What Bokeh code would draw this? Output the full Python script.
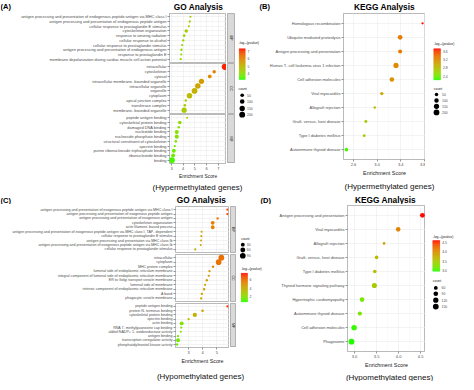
import numpy as np
from bokeh.plotting import figure
from bokeh.layouts import row, column
from bokeh.models import (FactorRange, Range1d, FixedTicker, ColumnDataSource,
                          LinearColorMapper, PrintfTickFormatter)
from bokeh.core.properties import value
from bokeh.embed import file_html
from bokeh.resources import INLINE

# ---------------- data ----------------
# Panel A : GO (hypermethylated)
a_bp_terms = ["antigen processing and presentation of endogenous peptide antigen via MHC class I",
              "antigen processing and presentation of endogenous peptide antigen",
              "cellular response to prostaglandin E stimulus",
              "cytoskeleton organization",
              "response to ionizing radiation",
              "cellular response to alcohol",
              "cellular response to prostaglandin stimulus",
              "antigen processing and presentation of endogenous antigen",
              "response to prostaglandin E",
              "membrane depolarization during cardiac muscle cell action potential"]
a_bp_score = [4.62, 4.56, 4.48, 4.26, 4.08, 4.00, 3.91, 3.85, 3.83, 3.79]
a_bp_logp = [4.7, 4.6, 4.6, 4.6, 4.4, 4.3, 4.3, 4.2, 4.2, 4.2]
a_bp_count = [8, 10, 8, 45, 18, 12, 10, 12, 9, 10]

a_cc_terms = ["intracellular", "cytoskeleton", "cytosol",
              "intracellular membrane- bounded organelle", "intracellular organelle",
              "organelle", "cytoplasm", "apical junction complex",
              "transferase complex", "membrane- bounded organelle"]
a_cc_score = [7.56, 6.65, 6.27, 5.56, 5.25, 4.97, 4.54, 4.22, 4.14, 4.08]
a_cc_logp = [7.3, 6.2, 6.0, 5.6, 5.4, 5.2, 4.9, 4.5, 4.5, 4.6]
a_cc_count = [230, 40, 55, 150, 170, 180, 165, 12, 20, 140]

a_mf_terms = ["peptide antigen binding", "cytoskeletal protein binding", "damaged DNA binding",
              "nucleotide binding", "nucleoside phosphate binding",
              "structural constituent of cytoskeleton", "spectrin binding",
              "purine ribonucleoside triphosphate binding", "ribonucleotide binding", "binding"]
a_mf_score = [4.34, 3.71, 3.62, 3.45, 3.45, 3.37, 3.28, 3.20, 3.14, 3.03]
a_mf_logp = [4.4, 4.2, 4.0, 4.0, 4.0, 3.9, 3.8, 3.7, 3.7, 3.4]
a_mf_count = [8, 45, 12, 70, 70, 15, 10, 60, 60, 215]

# Panel B : KEGG (hypermethylated)
b_terms = ["Homologous recombination", "Ubiquitin mediated proteolysis",
           "Antigen processing and presentation", "Human T- cell leukemia virus 1 infection",
           "Cell adhesion molecules", "Viral myocarditis", "Allograft rejection",
           "Graft- versus- host disease", "Type I diabetes mellitus", "Autoimmune thyroid disease"]
b_score = [3.77, 3.39, 3.39, 3.32, 3.25, 3.08, 2.96, 2.81, 2.78, 2.48]
b_logp = [3.7, 3.3, 3.3, 3.2, 3.15, 3.0, 2.85, 2.75, 2.7, 2.3]
b_count = [15, 110, 75, 150, 110, 40, 18, 30, 28, 55]

# Panel C : GO (hypomethylated)
c_bp_terms = ["antigen processing and presentation of exogenous peptide antigen via MHC class I",
              "antigen processing and presentation of exogenous peptide antigen",
              "antigen processing and presentation of exogenous antigen",
              "cytoskeleton organization",
              "actin filament- based process",
              "antigen processing and presentation of exogenous peptide antigen via MHC class I, TAP- dependent",
              "cellular response to prostaglandin E stimulus",
              "antigen processing and presentation via MHC class Ib",
              "antigen processing and presentation of exogenous peptide antigen via MHC class Ib",
              "cellular response to prostaglandin stimulus"]
c_bp_score = [5.75, 5.75, 5.06, 4.71, 4.71, 3.92, 3.90, 3.88, 3.86, 3.47]
c_bp_logp = [6.9, 6.8, 5.8, 5.5, 5.4, 4.3, 4.2, 4.2, 4.2, 3.8]
c_bp_count = [5, 5, 6, 28, 30, 4, 4, 4, 4, 5]

c_cc_terms = ["intracellular", "cytoplasm", "MHC protein complex",
              "lumenal side of endoplasmic reticulum membrane",
              "integral component of lumenal side of endoplasmic reticulum membrane",
              "ER to Golgi transport vesicle membrane", "lumenal side of membrane",
              "intrinsic component of endoplasmic reticulum membrane", "A band",
              "phagocytic vesicle membrane"]
c_cc_score = [5.32, 5.13, 4.73, 4.48, 4.43, 4.29, 4.17, 4.10, 3.94, 3.89]
c_cc_logp = [6.0, 5.8, 5.2, 4.8, 4.7, 4.6, 4.5, 4.4, 4.3, 4.2]
c_cc_count = [95, 88, 6, 5, 5, 6, 5, 8, 6, 6]

c_mf_terms = ["peptide antigen binding", "protein N- terminus binding", "cytoskeletal protein binding",
              "spectrin binding", "actin binding", "RNA 7- methylguanosine cap binding",
              "alditol:NADP+ 1- oxidoreductase activity", "antigen binding",
              "transcription coregulator activity", "phosphatidylinositol kinase activity"]
c_mf_score = [5.75, 3.99, 3.44, 3.00, 2.51, 2.48, 2.44, 2.25, 2.25, 2.18]
c_mf_logp = [7.0, 4.3, 3.8, 3.5, 2.0, 1.9, 1.9, 1.7, 1.7, 1.6]
c_mf_count = [5, 8, 40, 5, 30, 5, 4, 6, 30, 6]

# Panel D : KEGG (hypomethylated)
d_terms = ["Antigen processing and presentation", "Viral myocarditis", "Allograft rejection",
           "Graft- versus- host disease", "Type I diabetes mellitus",
           "Thyroid hormone signaling pathway", "Hypertrophic cardiomyopathy",
           "Autoimmune thyroid disease", "Cell adhesion molecules", "Phagosome"]
d_score = [4.54, 3.99, 3.67, 3.50, 3.46, 3.45, 3.17, 3.12, 2.99, 2.93]
d_logp = [4.6, 4.1, 3.85, 3.65, 3.6, 3.5, 3.2, 3.2, 3.0, 2.97]
d_count = [100, 85, 35, 55, 55, 110, 90, 70, 130, 150]

# axis ticks / legend values
a_ticks = [3, 4, 5, 6, 7]
b_ticks = [2.6, 3.0, 3.4, 3.8]
c_ticks = [3, 4, 5]
d_ticks = [3.0, 3.5, 4.0, 4.5]
a_col_labels = [7, 6, 5, 4]
b_col_labels = [3.6, 3.2, 2.8, 2.4]
c_col_labels = [6, 4, 2]
d_col_labels = [4.5, 4.0, 3.5, 3.0]
a_cnt_legend = [50, 100, 150, 200]
b_cnt_legend = [50, 100, 150, 200]
c_cnt_legend = [30, 60, 90]
d_cnt_legend = [60, 90, 120, 150]

# ---------------- style helpers ----------------
FONT = "Liberation Sans"
TXT = "#4D4D4D"
BORDER = "#8C8C8C"
GRID = "#EBEBEB"


def lab_palette(c0, c1, n=256):
    M = np.array([[0.4124564, 0.3575761, 0.1804375],
                  [0.2126729, 0.7151522, 0.0721750],
                  [0.0193339, 0.1191920, 0.9503041]])
    Minv = np.linalg.inv(M)
    W = np.array([0.95047, 1.0, 1.08883])

    def to_lab(h):
        rgb = np.array([int(h[i:i + 2], 16) for i in (1, 3, 5)]) / 255.0
        lin = np.where(rgb <= 0.04045, rgb / 12.92, ((rgb + 0.055) / 1.055) ** 2.4)
        xyz = M @ lin / W
        f = np.where(xyz > 0.008856, np.cbrt(xyz), 7.787 * xyz + 16 / 116)
        return np.array([116 * f[1] - 16, 500 * (f[0] - f[1]), 200 * (f[1] - f[2])])

    def from_lab(lab):
        fy = (lab[0] + 16) / 116
        f = np.array([fy + lab[1] / 500, fy, fy - lab[2] / 200])
        xyz = np.where(f ** 3 > 0.008856, f ** 3, (f - 16 / 116) / 7.787) * W
        lin = np.clip(Minv @ xyz, 0, 1)
        rgb = np.where(lin <= 0.0031308, 12.92 * lin, 1.055 * lin ** (1 / 2.4) - 0.055)
        rgb = np.clip(rgb, 0, 1)
        return "#%02x%02x%02x" % tuple(int(round(v * 255)) for v in rgb)

    a, b = to_lab(c0), to_lab(c1)
    return [from_lab(a + (b - a) * t) for t in np.linspace(0, 1, n)]


PAL = lab_palette("#00FF00", "#FF0000")


def cmap(lo, hi):
    return LinearColorMapper(palette=PAL, low=lo, high=hi)


def sizer(cmin, cmax, d0, d1):
    def f(c):
        t = np.clip((np.asarray(c, float) - cmin) / (cmax - cmin), 0, 1)
        return list(d0 + (d1 - d0) * np.sqrt(t))
    return f


def blank(w, h):
    p = figure(width=w, height=h, x_range=Range1d(0, w), y_range=Range1d(h, 0),
               min_border=0, x_axis_location=None, y_axis_location=None,
               output_backend="svg", toolbar_location=None)
    p.grid.visible = False
    p.outline_line_color = None
    return p


def put_text(p, xs, ys, texts, size, align="left", color=TXT, bold=False):
    p.text(x=xs, y=ys, text=texts, text_font=value(FONT), text_font_size=value(size),
           text_align=align, text_baseline="middle", text_color=color,
           text_font_style="bold" if bold else "normal")


def dot_panel(terms, score, logp, count, mapper, sz, xr, ticks, minor, fw, fh,
              left, top, bottom, lab_fs, axis=False, fmt=None, ax_fs="4.8px"):
    factors = list(reversed(terms))
    kw = dict(frame_width=fw, frame_height=fh, min_border_left=left, min_border_right=0,
              min_border_top=top, min_border_bottom=bottom,
              x_range=Range1d(*xr),
              y_range=FactorRange(factors=factors, range_padding=0.2,
                                  range_padding_units="absolute"),
              output_backend="svg", toolbar_location=None)
    if not axis:
        kw["x_axis_location"] = None
    p = figure(**kw)
    p.border_fill_color = "white"
    p.background_fill_color = "white"
    p.outline_line_color = BORDER
    p.outline_line_width = 0.6
    p.xgrid.ticker = FixedTicker(ticks=ticks, minor_ticks=minor)
    p.xgrid.grid_line_color = GRID
    p.xgrid.grid_line_width = 0.6
    p.xgrid.minor_grid_line_color = "#F3F3F3"
    p.xgrid.minor_grid_line_width = 0.4
    p.ygrid.grid_line_color = GRID
    p.ygrid.grid_line_width = 0.6

    src = ColumnDataSource(dict(term=terms, score=score, logp=logp, size=sz(count)))
    p.scatter("score", "term", size="size", source=src,
              fill_color={"field": "logp", "transform": mapper}, line_color=None)

    yax = p.yaxis[0]
    yax.major_label_text_font = FONT
    yax.major_label_text_font_size = lab_fs
    yax.major_label_text_color = TXT
    yax.major_tick_out = 2
    yax.major_tick_in = 0
    yax.major_tick_line_color = "#333333"
    yax.major_tick_line_width = 0.5
    yax.axis_line_color = None
    yax.major_label_standoff = 1

    if axis:
        xax = p.xaxis[0]
        xax.ticker = FixedTicker(ticks=ticks)
        if fmt:
            xax.formatter = PrintfTickFormatter(format=fmt)
        xax.major_label_text_font = FONT
        xax.major_label_text_font_size = "4px"
        xax.major_label_text_color = TXT
        xax.major_tick_out = 2
        xax.major_tick_in = 0
        xax.minor_tick_out = 0
        xax.minor_tick_in = 0
        xax.major_tick_line_color = "#333333"
        xax.major_tick_line_width = 0.5
        xax.axis_line_color = None
        xax.major_label_standoff = 1
        xax.axis_label = "Enrichment Score"
        xax.axis_label_text_font = FONT
        xax.axis_label_text_font_size = ax_fs
        xax.axis_label_text_font_style = "normal"
        xax.axis_label_text_color = "#222222"
        xax.axis_label_standoff = 1
    return p


def strip(label, fw, fh, top, bottom, right=1):
    s = figure(frame_width=fw, frame_height=fh, min_border_left=1, min_border_right=right,
               min_border_top=top, min_border_bottom=bottom,
               x_range=Range1d(0, 1), y_range=Range1d(0, 1),
               x_axis_location=None, y_axis_location=None,
               output_backend="svg", toolbar_location=None)
    s.grid.visible = False
    s.background_fill_color = "#D9D9D9"
    s.outline_line_color = BORDER
    s.outline_line_width = 0.6
    s.text(x=[0.5], y=[0.5], text=[label], angle=-np.pi / 2, text_align="center",
           text_baseline="middle", text_font=value(FONT), text_font_size=value("3.6px"),
           text_color="#1A1A1A")
    return s


def legend_panel(w, h, mapper, lo, hi, bar, col_vals, col_fmt, title_xy, lab_x,
                 cnt_vals, sz, cnt_title_xy, dot_x, dot_ys, cnt_lab_x):
    p = blank(w, h)
    x0, x1, y0, y1 = bar
    n = 60
    edges = np.linspace(lo, hi, n + 1)
    mids = (edges[:-1] + edges[1:]) / 2
    span = y1 - y0
    src = ColumnDataSource(dict(v=mids,
                                top=list(y1 - (edges[1:] - lo) / (hi - lo) * span),
                                bottom=list(y1 - (edges[:-1] - lo) / (hi - lo) * span)))
    p.quad(left=x0, right=x1, top="top", bottom="bottom", source=src,
           fill_color={"field": "v", "transform": mapper},
           line_color={"field": "v", "transform": mapper}, line_width=0.3)
    ly = list(y1 - (np.array(col_vals, float) - lo) / (hi - lo) * span)
    put_text(p, [lab_x] * len(col_vals), ly, [col_fmt % v for v in col_vals], "3.4px")
    put_text(p, [title_xy[0]], [title_xy[1]], ["-log\u2081\u2080(pvalue)"], "3.4px",
             color="#222222")
    put_text(p, [cnt_title_xy[0]], [cnt_title_xy[1]], ["count"], "3.4px", color="#222222")
    p.scatter(x=[dot_x] * len(cnt_vals), y=dot_ys, size=sz(cnt_vals),
              fill_color="black", line_color=None)
    put_text(p, [cnt_lab_x] * len(cnt_vals), dot_ys, [str(v) for v in cnt_vals], "3.4px")
    return p


# ---------------- scales ----------------
a_map, a_sz = cmap(3.2, 7.4), sizer(5, 230, 1.6, 6.2)
b_map, b_sz = cmap(2.23, 3.71), sizer(10, 200, 1.6, 5.8)
c_map, c_sz = cmap(0.8, 7.4), sizer(3, 95, 1.6, 5.8)
d_map, d_sz = cmap(2.95, 4.61), sizer(30, 160, 1.8, 6.0)

# ---------------- panel A ----------------
a_xr = (2.83, 7.7)
a_minor = [3.5, 4.5, 5.5, 6.5, 7.5]
fa1 = dot_panel(a_bp_terms, a_bp_score, a_bp_logp, a_bp_count, a_map, a_sz, a_xr, a_ticks,
                a_minor, 57, 49, 169, 1, 1, "3.9px")
fa2 = dot_panel(a_cc_terms, a_cc_score, a_cc_logp, a_cc_count, a_map, a_sz, a_xr, a_ticks,
                a_minor, 57, 50, 169, 0, 1, "3.9px")
fa3 = dot_panel(a_mf_terms, a_mf_score, a_mf_logp, a_mf_count, a_map, a_sz, a_xr, a_ticks,
                a_minor, 57, 49, 169, 0, 15, "3.9px", axis=True, ax_fs="4.8px")
sa1 = strip("BP", 7, 49, 1, 1, right=2)
sa2 = strip("CC", 7, 50, 0, 1, right=2)
sa3 = strip("MF", 7, 49, 0, 0, right=2)
col_a = column(row(fa1, sa1), row(fa2, sa2), row(fa3, sa3))

leg_a = legend_panel(30, 166, a_map, 3.2, 7.4, (2.7, 8.7, 40, 75), a_col_labels, "%d",
                     (2, 34), 11, a_cnt_legend, a_sz, (2, 86), 5.7,
                     [93, 100, 108, 115], 10.5)

# ---------------- panel B ----------------
fb = dot_panel(b_terms, b_score, b_logp, b_count, b_map, b_sz, (2.43, 3.82), b_ticks,
               [2.8, 3.2, 3.6], 82, 146, 77, 1, 19, "4px", axis=True,
               fmt="%.1f", ax_fs="5.4px")
leg_b = legend_panel(33, 166, b_map, 2.23, 3.71, (8.3, 15, 40, 75.5), b_col_labels, "%.1f",
                     (8.3, 35), 17.5, b_cnt_legend, b_sz, (8.3, 85.5), 11,
                     [92, 99, 105.5, 112.5], 16.5)

# ---------------- panel C ----------------
c_xr = (2.07, 5.9)
c_minor = [2.5, 3.5, 4.5, 5.5]
fc1 = dot_panel(c_bp_terms, c_bp_score, c_bp_logp, c_bp_count, c_map, c_sz, c_xr, c_ticks,
                c_minor, 54, 46, 175, 2, 1, "3.6px")
fc2 = dot_panel(c_cc_terms, c_cc_score, c_cc_logp, c_cc_count, c_map, c_sz, c_xr, c_ticks,
                c_minor, 54, 47, 175, 1, 1, "3.6px")
fc3 = dot_panel(c_mf_terms, c_mf_score, c_mf_logp, c_mf_count, c_map, c_sz, c_xr, c_ticks,
                c_minor, 54, 44, 175, 1, 19, "3.6px", axis=True, ax_fs="5.3px")
sc1 = strip("BP", 5, 46, 2, 1)
sc2 = strip("CC", 5, 47, 1, 1)
sc3 = strip("MF", 5, 44, 1, 0)
col_c = column(row(fc1, sc1), row(fc2, sc2), row(fc3, sc3))

leg_c = legend_panel(30, 162, c_map, 0.8, 7.4, (4.7, 11, 77.3, 110), c_col_labels, "%d",
                     (4.7, 73), 13, c_cnt_legend, c_sz, (4.7, 38), 6.3,
                     [44.7, 50.7, 57.3], 10.3)

# ---------------- panel D ----------------
fd = dot_panel(d_terms, d_score, d_logp, d_count, d_map, d_sz, (2.84, 4.61), d_ticks,
               [3.25, 3.75, 4.25], 78, 146, 81, 1, 15, "4px", axis=True,
               fmt="%.1f", ax_fs="5.4px")
leg_d = legend_panel(33, 162, d_map, 2.95, 4.61, (7.3, 14.3, 40, 75), d_col_labels, "%.1f",
                     (7.3, 35.7), 16.7, d_cnt_legend, d_sz, (7.3, 85.7), 10.3,
                     [94, 100.7, 108, 115.3], 16)

# ---------------- headers / footers ----------------
hdr_top = blank(458, 12)
put_text(hdr_top, [0, 259], [6, 6], ["(A)", "(B)"], "7.5px", align="left", color="black", bold=True)
put_text(hdr_top, [198, 384], [6, 6], ["GO Analysis", "KEGG Analysis"], "8.3px",
         align="center", color="black", bold=True)
foot_top = blank(458, 12)
put_text(foot_top, [197, 389], [5.5, 4.5], ["(Hypermethylated genes)", "(Hypermethylated genes)"],
         "8px", align="center", color="#111111")

hdr_bot = blank(458, 11)
put_text(hdr_bot, [0, 260], [5.5, 5.5], ["(C)", "(D)"], "7.5px", align="left", color="black", bold=True)
put_text(hdr_bot, [201, 385], [5.5, 5.5], ["GO Analysis", "KEGG Analysis"], "8.3px",
         align="center", color="black", bold=True)
foot_bot = blank(458, 11)
put_text(foot_bot, [200, 389], [5, 5.5], ["(Hypomethylated genes)", "(Hypomethylated genes)"],
         "8px", align="center", color="#111111")

layout = column(hdr_top, row(col_a, leg_a, fb, leg_b), foot_top,
                hdr_bot, row(col_c, leg_c, fd, leg_d), foot_bot)

open("out.html", "w").write(file_html(layout, INLINE))
